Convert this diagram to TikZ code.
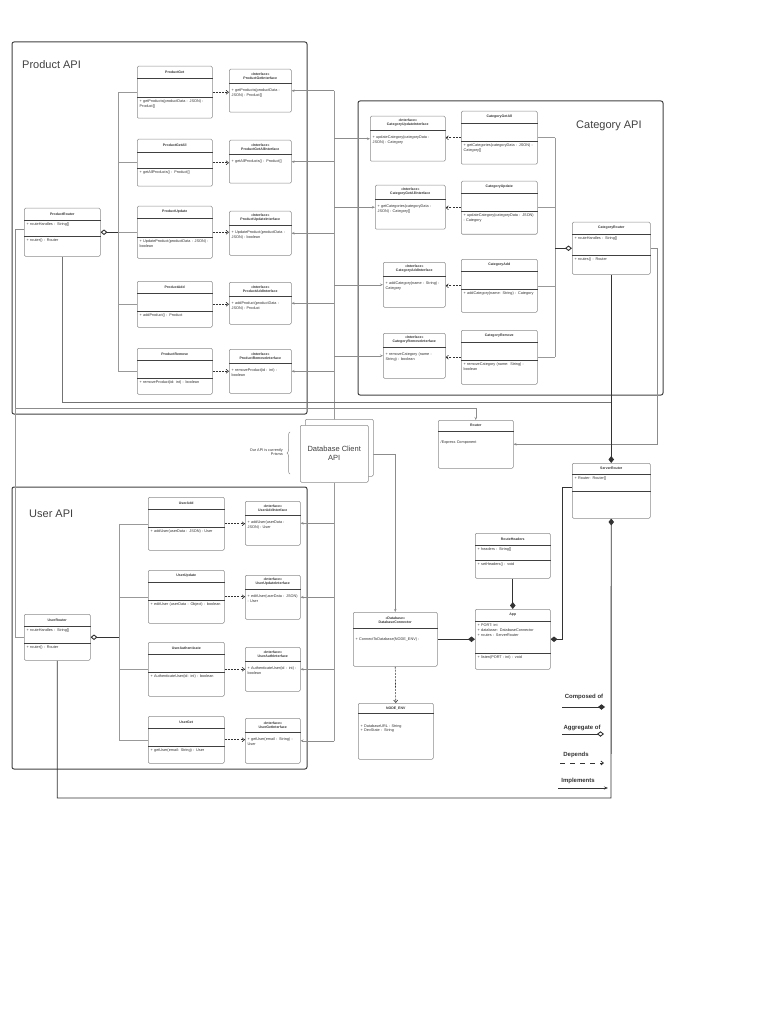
\documentclass[tikz,border=0pt]{standalone}
\usepackage{fontspec}
\setmainfont{Liberation Sans}
\usetikzlibrary{arrows.meta,backgrounds,decorations.pathreplacing}
\tikzset{
  box/.style={draw=black!45, rounded corners=1.2pt, line width=0.5pt, fill=white, inner sep=0pt},
  sep/.style={draw=black!75, line width=0.8pt},
  ttl/.style={font=\fontsize{3.5}{4}\selectfont\bfseries, align=center, text=black!80, inner sep=0pt},
  txt/.style={font=\fontsize{3.8}{4.6}\selectfont, align=left, text=black!80, inner sep=0pt},
  frame/.style={draw=black!75, line width=1pt, rounded corners=2pt},
  conn/.style={draw=black!40, line width=0.5pt},
  dep/.style={draw=black!80, line width=0.6pt, dashed, dash pattern=on 2pt off 1.2pt, -{Straight Barb[length=2.5pt,width=4pt]}},
  impl/.style={draw=black!45, line width=0.5pt, -{Stealth[length=3pt,width=2.5pt]}},
  comp/.style={draw=black!80, line width=0.9pt, -{Diamond[length=7pt,width=5.5pt]}},
  agg/.style={draw=black!80, line width=0.9pt, -{Diamond[open,length=7pt,width=5.5pt,fill=white]}},
  big/.style={font=\fontsize{11}{12}\selectfont, text=black!75, inner sep=0pt, anchor=west},
  leg/.style={font=\fontsize{6}{7}\selectfont\bfseries, text=black!80, inner sep=0pt}
}
% \cls{name}{x}{y}{w}{h}{h1}{h2}{title}{body}
\newcommand\cls[9]{%
  \node[box, anchor=north west, minimum width=#4pt, minimum height=#5pt] (#1) at (#2,#3) {};
  \draw[sep] ([yshift=-#6pt]#1.north west) -- ([yshift=-#6pt]#1.north east);
  \node[ttl] at ([yshift=-#6pt/2]#1.north) {#8};
  \pgfmathsetmacro\tw{#4-5}%
  \ifnum#7>0
    \draw[sep] ([yshift=-#7pt]#1.north west) -- ([yshift=-#7pt]#1.north east);
    \node[txt, anchor=north west, text width=\tw pt] at ([shift={(2.5,#7+3)}]#1.north west) {#9};
  \else
    \node[txt, anchor=north west, text width=\tw pt] at ([shift={(2.5,#6+6)}]#1.north west) {#9};
  \fi
}
\newcommand\attr[3]{\node[txt, anchor=north west, text width=72pt] at ([shift={(2.5,#2+3)}]#1.north west) {#3};}
\newcommand\ifc[1]{<<Interface>>\\#1}
\begin{document}
\begin{tikzpicture}[x=1pt,y=-1pt]
\useasboundingbox (0,0) rectangle (768,1024);

% ---------- Product API ----------
\cls{pr}{24}{208}{76}{48}{12}{28}{ProductRouter}{+ router() : Router}
\attr{pr}{12}{+ routeHandles : String[]}
\cls{pg}{137}{66}{75}{52}{12}{31}{ProductGet}{+ getProducts(productData : JSON) : Product[]}
\cls{pga}{137}{139}{75}{47}{13}{29}{ProductGetAll}{+ getAllProducts() : Product[]}
\cls{pu}{137}{206}{75}{52}{12}{31}{ProductUpdate}{+ UpdateProduct(productData : JSON) : boolean}
\cls{pa}{137}{281}{75}{46}{12}{30}{ProductAdd}{+ addProduct() : Product}
\cls{prm}{137}{348}{75}{46}{12}{30}{ProductRemove}{+ removeProduct(id: int) : boolean}
\cls{pgi}{229}{69}{62}{43}{14}{0}{\ifc{ProductGetInterface}}{+ getProducts(productData : JSON) : Product[]}
\cls{pgai}{229}{140}{62}{43}{14}{0}{\ifc{ProductGetAllInterface}}{+ getAllProducts() : Product[]}
\cls{pui}{229}{211}{62}{44}{14}{0}{\ifc{ProductUpdateInterface}}{+ UpdateProduct(productData : JSON) : boolean}
\cls{pai}{229}{282}{62}{42}{14}{0}{\ifc{ProductAddInterface}}{+ addProduct(productData : JSON) : Product}
\cls{pri}{229}{349}{62}{44}{14}{0}{\ifc{ProductRemoveInterface}}{+ removeProduct(id : int) : boolean}

% ---------- Category API ----------
\cls{cui}{370}{116}{75}{45}{14}{0}{\ifc{CategoryUpdateInterface}}{+ updateCategory(categoryData : JSON) : Category}
\cls{cgai}{375}{185}{70}{44}{14}{0}{\ifc{CategoryGetAllInterface}}{+ getCategories(categoryData : JSON) : Category[]}
\cls{cai}{383}{262}{62}{45}{14}{0}{\ifc{CategoryAddInterface}}{+ addCategory(name : String) : Category}
\cls{crmi}{383}{333}{62}{45}{14}{0}{\ifc{CategoryRemoveInterface}}{+ removeCategory (name : String) : boolean}
\cls{cga}{461}{111}{76}{53}{12}{30}{CategoryGetAll}{+ getCategories(categoryData : JSON) : Category[]}
\cls{cu}{461}{181}{76}{53}{12}{30}{CategoryUpdate}{+ updateCategory(categoryData : JSON) : Category}
\cls{ca}{461}{259}{76}{53}{12}{30}{CategoryAdd}{+ addCategory(name: String) : Category}
\cls{crm}{461}{330}{76}{54}{12}{30}{CategoryRemove}{+ removeCategory (name: String) : boolean}
\cls{cr}{572}{222}{78}{52}{12}{33}{CategoryRouter}{+ routes() : Router}
\attr{cr}{12}{+ routeHandles : String[]}

% ---------- Middle ----------
\cls{rt}{438}{420}{75}{48}{11}{0}{Router}{\rule{0pt}{6pt}/Express Component}
\cls{sr}{572}{463}{78}{55}{11}{28}{ServerRouter}{}
\attr{sr}{11}{+ Router: Router[]}
\cls{rh}{475}{533}{75}{45}{12}{27}{RouteHeaders}{+ setHeaders() : void}
\attr{rh}{12}{+ headers : String[]}
\cls{app}{475}{609}{75}{60}{12}{44}{App}{+ listen(PORT : int) : void}
\attr{app}{12}{+ PORT: int\\+ database: DatabaseConnector\\+ routes : ServerRouter}
\cls{dbk}{353}{612}{84}{54}{16}{0}{<<Database>>\\DatabaseConnector}{\rule{0pt}{6pt}+ ConnectToDatabase(NODE\_ENV) :}
\cls{env}{358}{703}{75}{56}{10}{0}{NODE\_ENV}{\rule{0pt}{8pt}+ DatabaseURL : String\\+ DevState : String}

\node[box, anchor=north west, minimum width=68pt, minimum height=57pt] (dbb) at (305,419) {};
\node[box, anchor=north west, minimum width=68pt, minimum height=57pt, align=center,
      font=\fontsize{7.5}{9}\selectfont, text=black!75] (dbc) at (300,425) {Database Client\\API};
\draw[black!45, line width=0.5pt, decorate, decoration={brace, amplitude=3pt}] (290,474) -- (290,432);
\node[txt, align=right, anchor=east] (note) at (283,452) {Our API is currently\\Prisma};

% ---------- User API ----------
\cls{ur}{24}{614}{66}{46}{12}{29}{UserRouter}{+ router() : Router}
\attr{ur}{12}{+ routeHandles : String[]}
\cls{ua}{148}{497}{76}{53}{12}{30}{UserAdd}{+ addUser(userData : JSON) : User}
\cls{uu}{148}{570}{76}{53}{12}{30}{UserUpdate}{+ editUser (userData : Object) : boolean}
\cls{uau}{148}{642}{76}{54}{12}{30}{UserAuthenticate}{+ AuthenticateUser(id: int) : boolean}
\cls{ug}{148}{716}{76}{47}{12}{30}{UserGet}{+ getUser(email: String) : User}
\cls{uai}{245}{501}{55}{44}{14}{0}{\ifc{UserAddInterface}}{+ addUser(userData : JSON) : User}
\cls{uui}{245}{575}{55}{44}{14}{0}{\ifc{UserUpdateInterface}}{+ editUser(userData : JSON) : User}
\cls{uaui}{245}{647}{55}{44}{14}{0}{\ifc{UserAuthInterface}}{+ AuthenticateUser(id : int) : boolean}
\cls{ugi}{245}{718}{55}{45}{14}{0}{\ifc{UserGetInterface}}{+ getUser(email : String) : User}

% ---------- Legend ----------
\node[leg] (l1) at (584,697) {Composed of};
\coordinate (l1a) at (562,707); \coordinate (l1b) at (605,707);
\node[leg] (l2) at (582,728) {Aggregate of};
\coordinate (l2a) at (562,734); \coordinate (l2b) at (604,734);
\node[leg] (l3) at (576,755) {Depends};
\coordinate (l3a) at (560,763); \coordinate (l3b) at (604,763);
\node[leg] (l4) at (578,781) {Implements};
\coordinate (l4a) at (558,788); \coordinate (l4b) at (608,788);

\coordinate (pb) at (118,0);
\coordinate (cb) at (555,0);
\coordinate (ub) at (119,0);
\coordinate (rl) at (15,408);
\coordinate (j1) at (611,402);
\coordinate (j2) at (611,798);

\begin{scope}[on background layer]
  \draw[frame] (12,42) rectangle (307,414);
  \draw[frame] (358,101) rectangle (663,395);
  \draw[frame] (12,487) rectangle (307,769);
  \node[big] (t1) at (22,65) {Product API};
  \node[big] (t2) at (576,126) {Category API};
  \node[big] (t3) at (29,514) {User API};

  % product
  \draw[conn] (pb |- pg.west) -- (pb |- prm.west);
  \foreach \c in {pg,pga,pu,pa,prm} \draw[conn] (pb |- \c.west) -- (\c.west);
  \draw[agg] (pb |- pr.east) -- (pr.east);
  \draw[dep] (pg.east) -- (pgi.west |- pg.east);
  \draw[dep] (pga.east) -- (pgai.west |- pga.east);
  \draw[dep] (pu.east) -- (pui.west |- pu.east);
  \draw[dep] (pa.east) -- (pai.west |- pa.east);
  \draw[dep] (prm.east) -- (pri.west |- prm.east);

  % implements bus from database client
  \draw[conn] (dbc.north) -- (dbc.north |- pgi.east);
  \foreach \c in {pgi,pgai,pui,pai,pri} \draw[impl] (dbc.north |- \c.east) -- (\c.east);
  \foreach \c in {cui,cgai,cai,crmi} \draw[impl] (dbc.north |- \c.west) -- (\c.west);
  \draw[conn] (dbc.south) -- (dbc.south |- ugi.east);
  \foreach \c in {uai,uui,uaui,ugi} \draw[impl] (dbc.south |- \c.east) -- (\c.east);
  \draw[impl] (dbc.east) -| (dbk.north);

  % category
  \draw[conn] (cb |- cga.east) -- (cb |- crm.east);
  \foreach \c in {cga,cu,ca,crm} \draw[conn] (\c.east) -- (cb |- \c.east);
  \draw[agg] (cb |- cr.west) -- (cr.west);
  \draw[dep] (cga.west) -- (cui.east |- cga.west);
  \draw[dep] (cu.west) -- (cgai.east |- cu.west);
  \draw[dep] (ca.west) -- (cai.east |- ca.west);
  \draw[dep] (crm.west) -- (crmi.east |- crm.west);

  % user
  \draw[conn] (ub |- ua.west) -- (ub |- ug.west);
  \foreach \c in {ua,uu,uau,ug} \draw[conn] (ub |- \c.west) -- (\c.west);
  \draw[agg] (ub |- ur.east) -- (ur.east);
  \draw[dep] (ua.east) -- (uai.west |- ua.east);
  \draw[dep] (uu.east) -- (uui.west |- uu.east);
  \draw[dep] (uau.east) -- (uaui.west |- uau.east);
  \draw[dep] (ug.east) -- (ugi.west |- ug.east);

  % routers
  \draw[impl] ([yshift=-21pt]pr.north west) -| (rl) -| (rt.north);
  \draw[conn] ([yshift=-23pt]ur.north west) -| (rl);
  \draw[impl] (cr.east) -- ++(7,0) |- (rt.east);
  \draw[draw=black!55, line width=0.8pt] (pr.south) |- (j1);
  \draw[comp] (cr.south) -- (sr.north);
  \draw[comp] (ur.south) |- (j2) -- (sr.south);
  \draw[comp] ([yshift=-24pt]sr.north west) -- ++(-10,0) |- (app.east);
  \draw[comp] (rh.south) -- (app.north);
  \draw[comp] (dbk.east) -- (app.west);
  \draw[dep] (dbk.south) -- (env.north);

  % legend
  \draw[comp] (l1a) -- (l1b);
  \draw[agg] (l2a) -- (l2b);
  \draw[dep, dash pattern=on 5pt off 5pt, line width=0.8pt] (l3a) -- (l3b);
  \draw[draw=black!80, line width=0.9pt, -{Stealth[length=4pt,width=3pt]}] (l4a) -- (l4b);
\end{scope}
\end{tikzpicture}
\end{document}
